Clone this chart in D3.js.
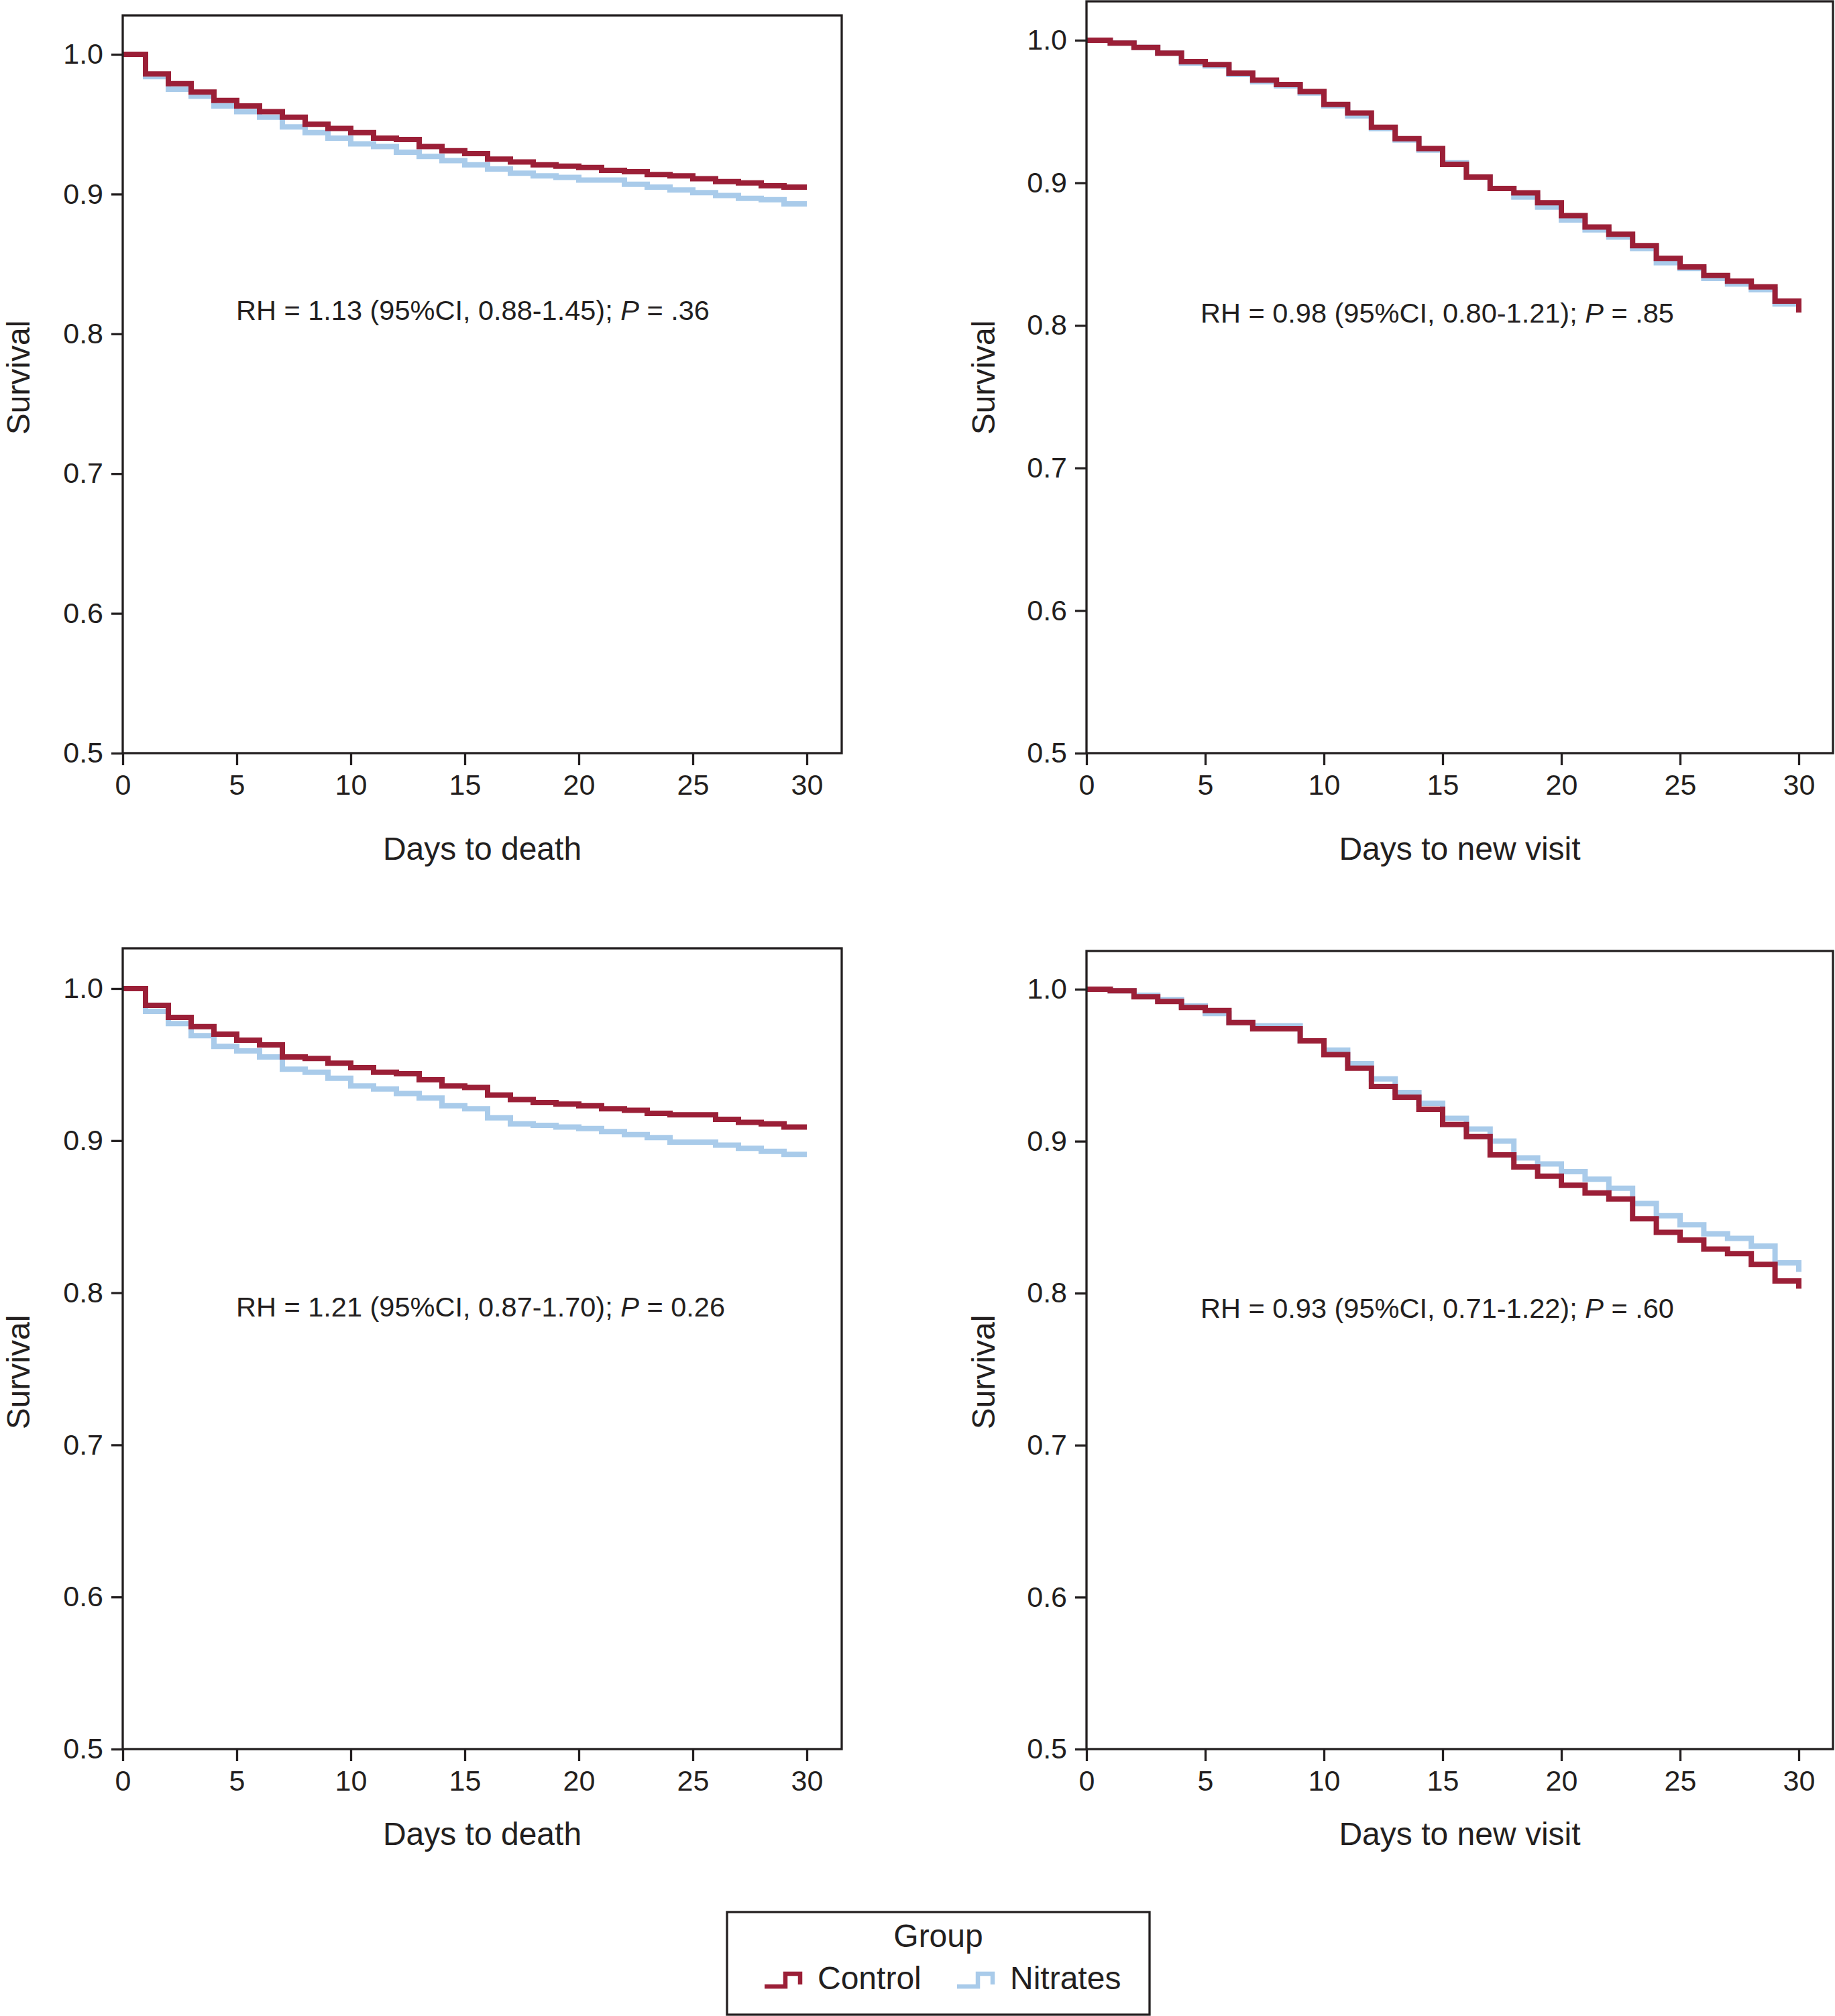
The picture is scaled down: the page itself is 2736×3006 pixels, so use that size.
<!DOCTYPE html>
<html>
<head>
<meta charset="utf-8">
<script src="https://cdn.jsdelivr.net/npm/d3@7"></script>
<style>
  body { margin: 0; background: #fff; }
  text { font-family: "Liberation Sans", Arial, sans-serif; fill: #231f20; }
</style>
</head>
<body>
<div id="container"></div>
<script>
//Data (one value per day, 0..30)
const days = [0, 1, 2, 3, 4, 5, 6, 7, 8, 9, 10, 11, 12, 13, 14, 15, 16, 17, 18, 19, 20, 21, 22, 23, 24, 25, 26, 27, 28, 29, 30];
const yTicks = [0.5, 0.6, 0.7, 0.8, 0.9, 1.0];
const xTicks = [0, 5, 10, 15, 20, 25, 30];
const groups = ['Control', 'Nitrates'];
const xTitles = ['Days to death', 'Days to new visit', 'Days to death', 'Days to new visit'];
const rhTexts = ['1.13 (95%CI, 0.88-1.45)', '0.98 (95%CI, 0.80-1.21)', '1.21 (95%CI, 0.87-1.70)', '0.93 (95%CI, 0.71-1.22)'];
const pTexts = ['.36', '.85', '0.26', '.60'];

//Top left: death
const controlDeathA = [1.000, 0.986, 0.979, 0.973, 0.967, 0.963, 0.959, 0.955, 0.950, 0.947, 0.944, 0.940, 0.939, 0.934, 0.931, 0.929, 0.925, 0.923, 0.921, 0.920, 0.919, 0.917, 0.916, 0.914, 0.913, 0.911, 0.909, 0.908, 0.906, 0.905, 0.905];
const nitratesDeathA = [1.000, 0.984, 0.975, 0.970, 0.963, 0.959, 0.955, 0.948, 0.944, 0.940, 0.936, 0.934, 0.930, 0.927, 0.924, 0.921, 0.918, 0.915, 0.913, 0.912, 0.910, 0.910, 0.907, 0.905, 0.903, 0.901, 0.899, 0.897, 0.896, 0.893, 0.893];
//Top right: new visit
const controlVisitA = [1.000, 0.998, 0.995, 0.991, 0.985, 0.983, 0.977, 0.972, 0.969, 0.964, 0.955, 0.949, 0.939, 0.931, 0.924, 0.913, 0.904, 0.896, 0.893, 0.886, 0.877, 0.869, 0.864, 0.856, 0.847, 0.841, 0.835, 0.831, 0.827, 0.817, 0.809];
const nitratesVisitA = [1.000, 0.998, 0.995, 0.991, 0.984, 0.982, 0.976, 0.971, 0.968, 0.963, 0.954, 0.947, 0.938, 0.930, 0.923, 0.914, 0.904, 0.896, 0.890, 0.883, 0.874, 0.867, 0.862, 0.854, 0.844, 0.840, 0.833, 0.829, 0.825, 0.815, 0.809];
//Bottom left: death
const controlDeathB = [1.000, 0.989, 0.981, 0.975, 0.970, 0.966, 0.963, 0.955, 0.954, 0.951, 0.948, 0.945, 0.944, 0.940, 0.936, 0.935, 0.930, 0.927, 0.925, 0.924, 0.923, 0.921, 0.920, 0.918, 0.917, 0.917, 0.914, 0.912, 0.911, 0.909, 0.909];
const nitratesDeathB = [1.000, 0.985, 0.977, 0.969, 0.962, 0.959, 0.955, 0.947, 0.945, 0.941, 0.936, 0.934, 0.931, 0.928, 0.923, 0.921, 0.915, 0.911, 0.910, 0.909, 0.908, 0.906, 0.904, 0.902, 0.899, 0.899, 0.897, 0.895, 0.893, 0.891, 0.891];
//Bottom right: new visit
const controlVisitB = [1.000, 0.999, 0.995, 0.992, 0.988, 0.986, 0.978, 0.974, 0.974, 0.966, 0.957, 0.948, 0.936, 0.929, 0.921, 0.911, 0.903, 0.891, 0.883, 0.877, 0.871, 0.866, 0.862, 0.849, 0.840, 0.835, 0.829, 0.826, 0.819, 0.808, 0.803];
const nitratesVisitB = [1.000, 0.999, 0.996, 0.993, 0.989, 0.984, 0.978, 0.976, 0.976, 0.966, 0.960, 0.951, 0.941, 0.932, 0.925, 0.915, 0.908, 0.900, 0.889, 0.885, 0.880, 0.875, 0.869, 0.859, 0.851, 0.845, 0.839, 0.836, 0.831, 0.820, 0.814];

const series = [
    [controlDeathA, nitratesDeathA],
    [controlVisitA, nitratesVisitA],
    [controlDeathB, nitratesDeathB],
    [controlVisitB, nitratesVisitB]
];

//Colors
const colors = ['#9b1f37', '#a9cbea'];
const ink = '#231f20';

//Panel layout in pixels (frame, position of day 30 and of survival 1.0)
const panels = [
    { left: 183, right: 1255, top: 23, bottom: 1123, x30: 1203, y1: 81, yTitleX: 27, yTitleY: 563, noteX: 352, noteY: 477, xTitleY: 1282 },
    { left: 1620, right: 2733, top: 2, bottom: 1123, x30: 2682, y1: 60, yTitleX: 1466, yTitleY: 563, noteX: 1790, noteY: 481, xTitleY: 1282 },
    { left: 183, right: 1255, top: 1414, bottom: 2608, x30: 1203, y1: 1474, yTitleX: 27, yTitleY: 2046, noteX: 352, noteY: 1963, xTitleY: 2751 },
    { left: 1620, right: 2733, top: 1418, bottom: 2608, x30: 2682, y1: 1475, yTitleX: 1466, yTitleY: 2046, noteX: 1790, noteY: 1965, xTitleY: 2751 }
];

const width = 2736;
const height = 3006;
const svg = d3.select('#container').append('svg')
    .attr('width', width)
    .attr('height', height)
    .style('display', 'block')
    .style('background-color', 'white');

const font = '"Liberation Sans", Arial, sans-serif';

panels.forEach((p, i) => {
    const x = d3.scaleLinear().domain([0, 30]).range([p.left, p.x30]);
    const y = d3.scaleLinear().domain([0.5, 1.0]).range([p.bottom, p.y1]);
    const g = svg.append('g').attr('class', 'panel');

    //Axes
    const yAxis = g.append('g')
        .attr('transform', `translate(${p.left},0)`)
        .call(d3.axisLeft(y).tickValues(yTicks).tickSize(17).tickPadding(12).tickFormat(d3.format('.1f')));
    const xAxis = g.append('g')
        .attr('transform', `translate(0,${p.bottom})`)
        .call(d3.axisBottom(x).tickValues(xTicks).tickSize(18).tickPadding(13));

    [yAxis, xAxis].forEach(a => {
        a.attr('font-size', 43).attr('font-family', font).attr('color', ink);
        a.select('.domain').remove();
        a.selectAll('line').attr('stroke-width', 3.3);
    });

    //Survival curves, nitrates under control
    const line = d3.line()
        .x(d => x(d[0]))
        .y(d => y(d[1]))
        .curve(d3.curveStepAfter);

    [1, 0].forEach(k => {
        g.append('path')
            .datum(d3.zip(days, series[i][k]))
            .attr('fill', 'none')
            .attr('stroke', colors[k])
            .attr('stroke-width', 8)
            .attr('d', line);
    });

    //Frame
    g.append('rect')
        .attr('x', p.left)
        .attr('y', p.top)
        .attr('width', p.right - p.left)
        .attr('height', p.bottom - p.top)
        .attr('fill', 'none')
        .attr('stroke', ink)
        .attr('stroke-width', 3.3);

    //Annotation
    const note = g.append('text')
        .attr('x', p.noteX)
        .attr('y', p.noteY)
        .attr('font-size', 41.5)
        .style('white-space', 'pre');
    note.append('tspan').text(`RH = ${rhTexts[i]}; `);
    note.append('tspan').attr('font-style', 'italic').text('P');
    note.append('tspan').text(` = ${pTexts[i]}`);

    //Axis titles
    g.append('text')
        .attr('x', (p.left + p.right) / 2)
        .attr('y', p.xTitleY)
        .attr('text-anchor', 'middle')
        .attr('font-size', 48)
        .text(xTitles[i]);

    g.append('text')
        .attr('transform', `translate(${p.yTitleX},${p.yTitleY}) rotate(-90)`)
        .attr('text-anchor', 'middle')
        .attr('dy', '0.35em')
        .attr('font-size', 48)
        .text('Survival');
});

//Legend
const legend = svg.append('g').attr('id', 'legend');
legend.append('rect')
    .attr('x', 1084)
    .attr('y', 2851)
    .attr('width', 630)
    .attr('height', 153)
    .attr('fill', 'white')
    .attr('stroke', ink)
    .attr('stroke-width', 3.3);

legend.append('text')
    .attr('x', 1399)
    .attr('y', 2903)
    .attr('text-anchor', 'middle')
    .attr('font-size', 48)
    .text('Group');

const itemX = [1140, 1427];
groups.forEach((name, k) => {
    legend.append('path')
        .attr('transform', `translate(${itemX[k]},2943)`)
        .attr('d', 'M0,19H31V0H53V16')
        .attr('fill', 'none')
        .attr('stroke', colors[k])
        .attr('stroke-width', 6.5);
    legend.append('text')
        .attr('x', itemX[k] + 79)
        .attr('y', 2966)
        .attr('font-size', 48)
        .text(name);
});
</script>
</body>
</html>
